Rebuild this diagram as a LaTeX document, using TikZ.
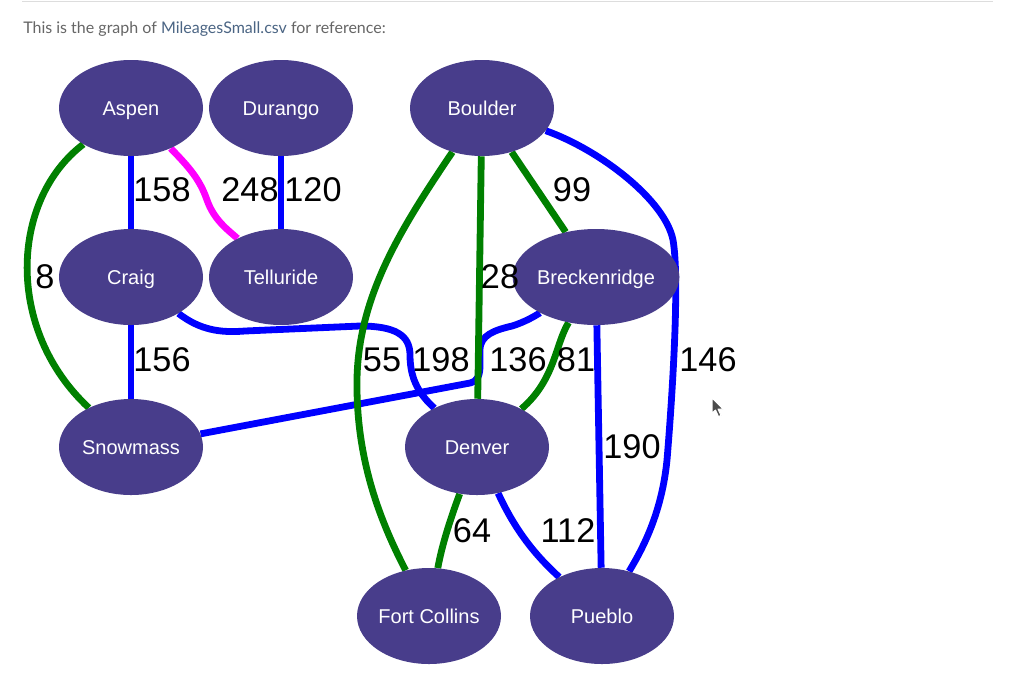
\documentclass[tikz,border=0pt]{standalone}
\usepackage{fontspec}
\setmainfont{Liberation Sans}
\newfontfamily\headfont{Lato}
\usetikzlibrary{shapes.geometric}
\definecolor{nodefill}{HTML}{483D8B}
\definecolor{headgray}{HTML}{666666}
\definecolor{headlink}{HTML}{4B6584}
\definecolor{rulegray}{HTML}{DDDDDD}
\definecolor{edgeblue}{RGB}{0,0,255}
\definecolor{edgegreen}{RGB}{0,128,0}
\definecolor{edgemag}{RGB}{255,0,255}
\pgfdeclarelayer{edgelayer}
\pgfsetlayers{edgelayer,main}
\begin{document}
\begin{tikzpicture}[x=0.75pt,y=-0.75pt,
  city/.style={ellipse, fill=nodefill, minimum width=108pt, minimum height=72pt, inner sep=0pt, text=white, font=\fontsize{15}{18}\selectfont, text height=10.74pt, text depth=0pt},
  edgeline/.style={line width=5.1pt},
  bl/.style={edgeline, draw=edgeblue},
  gr/.style={edgeline, draw=edgegreen},
  mg/.style={edgeline, draw=edgemag},
  wt/.style={inner sep=0pt, font=\fontsize{25.7}{30}\selectfont}]
\useasboundingbox (0,0) rectangle (1009,683);
\begin{pgfonlayer}{edgelayer}
\fill[white] (0,0) rectangle (1009,683);
\end{pgfonlayer}
\draw[rulegray, line width=0.75pt] (22,1) -- (993,1);
\node[anchor=west, inner sep=0pt, font=\headfont\fontsize{12}{14}\selectfont, text=headgray] (head) at (23,29) {This is the graph of \textcolor{headlink}{MileagesSmall.csv} for reference:};

% nodes
\node[city] (aspen) at (131,108) {Aspen};
\node[city] (durango) at (281,108) {Durango};
\node[city] (boulder) at (482,108) {Boulder};
\node[city] (craig) at (131,277) {Craig};
\node[city] (telluride) at (281,277) {Telluride};
\node[city] (breck) at (596,277) {Breckenridge};
\node[city] (snowmass) at (131,447) {Snowmass};
\node[city] (denver) at (477,447) {Denver};
\node[city] (fortcollins) at (429,616) {Fort Collins};
\node[city] (pueblo) at (602,616) {Pueblo};

\begin{pgfonlayer}{edgelayer}
\draw[bl] (aspen) -- (craig);
\draw[mg] (aspen) .. controls (190,168) and (200,180) .. (207,200) .. controls (214,220) and (228,230) .. (telluride);
\draw[bl] (durango) -- (telluride);
\draw[gr] (aspen) .. controls (10,200) and (5,330) .. (snowmass);
\draw[bl] (craig) -- (snowmass);
\draw[bl] (craig) .. controls (200,330) and (220,333) .. (245,331) -- (360,326) .. controls (395,326) and (410,335) .. (410,355) .. controls (410,380) and (420,395) .. (denver);
\draw[bl] (snowmass) -- (470,383) .. controls (478,381) and (480,375) .. (480,365) -- (480,350) .. controls (480,335) and (495,330) .. (512,326) .. controls (525,322) and (535,316) .. (breck);
\draw[gr] (boulder) -- (denver);
\draw[gr] (boulder) .. controls (400,230) and (355,300) .. (357,390) .. controls (358,470) and (385,530) .. (fortcollins);
\draw[gr] (boulder) -- (breck);
\draw[bl] (boulder) .. controls (600,150) and (665,200) .. (673,240) .. controls (680,280) and (672,400) .. (667,460) .. controls (662,510) and (645,545) .. (pueblo);
\draw[gr] (breck) .. controls (555,345) and (555,380) .. (denver);
\draw[bl] (breck) -- (pueblo);
\draw[gr] (denver) .. controls (450,520) and (442,545) .. (fortcollins);
\draw[bl] (denver) .. controls (515,530) and (535,555) .. (pueblo);
\end{pgfonlayer}

% weights
\node[wt] (w1) at (162,190) {158};
\node[wt] (w2) at (250,190) {248};
\node[wt] (w3) at (313,190) {120};
\node[wt] (w4) at (45,277) {8};
\node[wt] (w5) at (162,360) {156};
\node[wt] (w6) at (500,277) {28};
\node[wt] (w7) at (572,190) {99};
\node[wt] (w8) at (382,360) {55};
\node[wt] (w9) at (441,360) {198};
\node[wt] (w10) at (518,360) {136};
\node[wt] (w11) at (576,360) {81};
\node[wt] (w12) at (708,360) {146};
\node[wt] (w13) at (632,447) {190};
\node[wt] (w14) at (472,531) {64};
\node[wt] (w15) at (568,531) {112};

% mouse cursor
\filldraw[fill=black!70, draw=white, line width=0.75pt, line join=round] (712,398) -- (712,413) -- (715.5,410) -- (718.5,416.5) -- (721,415.5) -- (718,409) -- (723,409) -- cycle;
\end{tikzpicture}
\end{document}
